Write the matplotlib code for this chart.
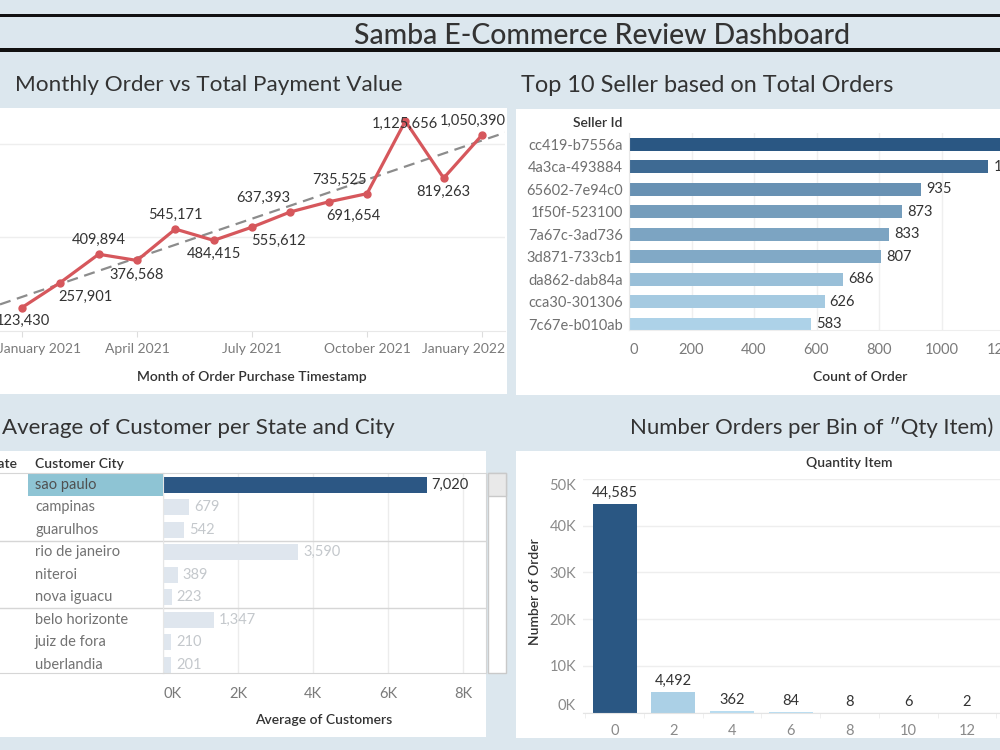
import numpy as np
import matplotlib
matplotlib.use('Agg')
import matplotlib.pyplot as plt
from matplotlib.patches import Rectangle
from matplotlib.colors import LinearSegmentedColormap, Normalize
from matplotlib.transforms import ScaledTranslation

# ---------------- data ----------------
dashboard_title = "Samba E-Commerce Review Dashboard"

line_title = "Monthly Order vs Total Payment Value"
months = ['January 2021', 'February 2021', 'March 2021', 'April 2021', 'May 2021',
          'June 2021', 'July 2021', 'August 2021', 'September 2021', 'October 2021',
          'November 2021', 'December 2021', 'January 2022']
payment_values = [123430, 257901, 409894, 376568, 545171, 484415, 555612,
                  637393, 691654, 735525, 1125656, 819263, 1050390]
month_tick_labels = ['January 2021', 'April 2021', 'July 2021', 'October 2021', 'January 2022']
line_xlabel = "Month of Order Purchase Timestamp"

seller_title = "Top 10 Seller based on Total Orders"
seller_ids = ['cc419-b7556a', '4a3ca-493884', '65602-7e94c0', '1f50f-523100', '7a67c-3ad736',
              '3d871-733cb1', 'da862-dab84a', 'cca30-301306', '7c67e-b010ab']
seller_orders = [1254, 1150, 935, 873, 833, 807, 686, 626, 583]
seller_ticks = [0, 200, 400, 600, 800, 1000, 1200]
seller_header = "Seller Id"
seller_xlabel = "Count of Order"

city_title = "Average of Customer per State and City"
customer_states = ['SP', 'SP', 'SP', 'RJ', 'RJ', 'RJ', 'MG', 'MG', 'MG']
customer_cities = ['sao paulo', 'campinas', 'guarulhos', 'rio de janeiro', 'niteroi',
                   'nova iguacu', 'belo horizonte', 'juiz de fora', 'uberlandia']
avg_customers = [7020, 679, 542, 3590, 389, 223, 1347, 210, 201]
selected_city = 'sao paulo'
cust_ticks = [0, 2000, 4000, 6000, 8000]
cust_tick_labels = ['0K', '2K', '4K', '6K', '8K']
city_headers = ["Customer State", "Customer City"]
city_xlabel = "Average of Customers"

qty_title = "Number Orders per Bin of \u2033Qty Item)"
qty_bins = [0, 2, 4, 6, 8, 10, 12]
qty_orders = [44585, 4492, 362, 84, 8, 6, 2]
qty_yticks = [0, 10000, 20000, 30000, 40000, 50000]
qty_ytick_labels = ['0K', '10K', '20K', '30K', '40K', '50K']
qty_header = "Quantity Item"
qty_ylabel = "Number of Order"

# ---------------- style ----------------
plt.rcParams['font.family'] = ['Lato', 'DejaVu Sans']
BG = '#dce7ee'
DARK = '#333333'
TICK = '#7a7a7a'
RED = '#d6575c'
ramp = LinearSegmentedColormap.from_list('tab_blue', ['#b9ddf1', '#2a5783'])
W, H = 1000, 750

fig = plt.figure(figsize=(10, 7.5), dpi=100)
fig.patch.set_facecolor(BG)


def px_axes(x0, y0, x1, y1, **kw):
    return fig.add_axes([x0 / W, 1 - y1 / H, (x1 - x0) / W, (y1 - y0) / H], **kw)


def shift(artist, dx_px):
    artist.set_transform(artist.get_transform() +
                         ScaledTranslation(dx_px / fig.dpi, 0, fig.dpi_scale_trans))


# underlay with white panels
under = px_axes(0, 0, W, H, zorder=-5)
under.set_xlim(0, W); under.set_ylim(H, 0); under.axis('off')
for (x0, y0, x1, y1) in [(0, 108, 507, 394), (516, 109, 1000, 395),
                         (0, 451, 486, 737), (516, 451, 1000, 738)]:
    under.add_patch(Rectangle((x0, y0), x1 - x0, y1 - y0, fc='white', ec='none'))

# overlay for texts and decorations
over = px_axes(0, 0, W, H, zorder=10)
over.set_xlim(0, W); over.set_ylim(H, 0); over.axis('off')
over.add_patch(Rectangle((0, 13.5), W, 3.5, fc='#111111', ec='none'))
over.add_patch(Rectangle((0, 48), W, 3.5, fc='#111111', ec='none'))
over.text(602, 36, dashboard_title, ha='center', va='center', fontsize=20.4,
          color=DARK, fontweight='medium')
for (x, y, s, fs) in [(15, 85, line_title, 16.2), (521, 85, seller_title, 16.9),
                      (2, 428, city_title, 16.15), (630, 428, qty_title, 15.9)]:
    over.text(x, y, s, ha='left', va='center', fontsize=fs, color=DARK)


def clean(ax):
    ax.set_facecolor('none')
    for s in ax.spines.values():
        s.set_visible(False)


# ---------------- 1. line chart ----------------
ax1 = px_axes(0, 108, 505, 330.5)
clean(ax1)
xi = np.arange(len(payment_values))
ax1.set_xlim(-0.574, 12.60)
ax1.set_ylim(0, 1.196e6)
ax1.set_yticks([500000, 1000000])
ax1.tick_params(axis='y', length=0, labelleft=False)
ax1.grid(axis='y', color='#eeeeee', lw=1)
ax1.set_axisbelow(True)
ax1.spines['bottom'].set_visible(True)
ax1.spines['bottom'].set_color('#e8e8e8')
ax1.set_xticks([months.index(m) for m in month_tick_labels], month_tick_labels)
ax1.tick_params(axis='x', length=4, color='#dddddd', pad=5, labelsize=10, labelcolor=TICK)
xl1 = ax1.get_xticklabels()
xl1[0].set_ha('left'); shift(xl1[0], -24)
xl1[-1].set_ha('right'); shift(xl1[-1], 23)
coef = np.polyfit(xi, payment_values, 1)
xx = np.array(ax1.get_xlim())
ax1.plot(xx, np.polyval(coef, xx), ls=(0, (5, 3)), color='#8c8c8c', lw=1.6, zorder=2)
ax1.plot(xi, payment_values, color=RED, lw=2.3, marker='o', ms=5, zorder=3)
label_offsets = [(1, -13), (25, -14), (0, 14), (0, -14), (0, 14), (0, -14), (26, -14),
                 (-27, 14), (25, -14), (-27, 14), (0, -3), (0, -14), (-9, 14)]
for i, v in enumerate(payment_values):
    dx, dy = label_offsets[i]
    ax1.annotate(f'{v:,}', (i, v), xytext=(dx, dy), textcoords='offset pixels',
                 ha='center', va='center', fontsize=10.5, color=DARK, zorder=4)
over.text(252, 377, line_xlabel, ha='center', va='center', fontsize=10,
          color=DARK, fontweight='semibold')

# ---------------- 2. sellers ----------------
ax2 = px_axes(629, 133, 1100, 329.5)
clean(ax2)
ax2.set_xlim(0, (1100 - 629) / 0.3125)
ax2.set_ylim(8.233, -0.5)
norm2 = Normalize(min(seller_orders) - 60, max(seller_orders))
ys = np.arange(len(seller_ids))
ax2.barh(ys, seller_orders, height=0.59, color=[ramp(norm2(v)) for v in seller_orders], zorder=2)
ax2.grid(axis='x', color='#efefef', lw=1)
ax2.set_axisbelow(True)
ax2.spines['left'].set_visible(True); ax2.spines['left'].set_color('#e8e8e8')
ax2.spines['bottom'].set_visible(True); ax2.spines['bottom'].set_color('#eeeeee')
ax2.set_yticks(ys, seller_ids)
ax2.tick_params(axis='y', length=0, pad=4.5, labelsize=10.5, labelcolor='#707070')
ax2.set_xticks(seller_ticks, [str(t) for t in seller_ticks])
ax2.tick_params(axis='x', length=0, pad=10, labelsize=10.5, labelcolor=TICK)
ax2.get_xticklabels()[0].set_ha('left')
for i, v in enumerate(seller_orders):
    ax2.annotate(f'{v:,}', (v, i), xytext=(5, 0), textcoords='offset pixels',
                 ha='left', va='center', fontsize=10.5, color=DARK, clip_on=True)
over.text(622.7, 123.3, seller_header, ha='right', va='center', fontsize=10,
          color=DARK, fontweight='semibold')
over.text(860, 377, seller_xlabel, ha='center', va='center', fontsize=10,
          color=DARK, fontweight='semibold')

# ---------------- 3. customers per city ----------------
row_top, row_bot = 473.3, 672.7
ylim3 = (-0.5 + (row_bot - row_top) / 22.5, -0.5)
ax3 = px_axes(163.3, row_top, 485.7, row_bot)
clean(ax3)
ax3.set_xlim(0, (485.7 - 163.3) / 0.0375)
ax3.set_ylim(*ylim3)
sel = customer_cities.index(selected_city)
cols3 = ['#2c5784' if i == sel else '#dfe6ee' for i in range(len(avg_customers))]
lab3 = [DARK if i == sel else '#c4c8cc' for i in range(len(avg_customers))]
rows = np.arange(len(customer_cities))
ax3.barh(rows, avg_customers, height=0.71, color=cols3, zorder=2)
for i, v in enumerate(avg_customers):
    ax3.annotate(f'{v:,}', (v, i), xytext=(5, 0), textcoords='offset pixels',
                 ha='left', va='center', fontsize=10.5, color=lab3[i], clip_on=True)
ax3.grid(axis='x', color='#ececec', lw=1)
ax3.set_axisbelow(True)
ax3.set_yticks([])
ax3.set_xticks(cust_ticks, cust_tick_labels)
ax3.tick_params(axis='x', length=0, pad=10, labelsize=10.5, labelcolor=TICK)
ax3.get_xticklabels()[0].set_ha('left')
ax3.spines['left'].set_visible(True); ax3.spines['left'].set_color('#e6e6e6')
for s in ['top', 'bottom', 'right']:
    ax3.spines[s].set_visible(True); ax3.spines[s].set_color('#d6d6d6')

ax3t = px_axes(0, row_top, 163.3, row_bot)
clean(ax3t)
ax3t.set_xlim(0, 163.3); ax3t.set_ylim(*ylim3)
ax3t.set_xticks([]); ax3t.set_yticks([])
for s in ['top', 'bottom']:
    ax3t.spines[s].set_visible(True); ax3t.spines[s].set_color('#d6d6d6')
ax3t.add_patch(Rectangle((28.3, sel - 0.5), 135, 1.0, fc='#8ec4d4', ec='none'))
for i, c in enumerate(customer_cities):
    ax3t.text(35, i, c, ha='left', va='center', fontsize=10.5,
              color='#505050' if i == sel else '#727272')
sep = [i + 0.5 for i in range(len(customer_states) - 1) if customer_states[i] != customer_states[i + 1]]
for s in sep:
    ax3.axhline(s, color='#d6d6d6', lw=1)
    ax3t.axhline(s, color='#d6d6d6', lw=1)
over.text(17, 464, city_headers[0], ha='right', va='center', fontsize=10,
          color=DARK, fontweight='semibold')
over.text(35, 464, city_headers[1], ha='left', va='center', fontsize=10,
          color=DARK, fontweight='semibold')
over.text(324, 720, city_xlabel, ha='center', va='center', fontsize=10,
          color=DARK, fontweight='semibold')
# scrollbar
over.add_patch(Rectangle((487.5, row_top), 18, row_bot - row_top, fc='white', ec='#c9c9c9', lw=1))
over.add_patch(Rectangle((487.5, row_top), 18, 22.4, fc='#e9e9e9', ec='#c9c9c9', lw=1))

# ---------------- 4. qty bins ----------------
ax4 = px_axes(583, 478.7, 1100, 712.7)
clean(ax4)
ax4.set_xlim(-31.7 / 29.35, -31.7 / 29.35 + 517 / 29.35)
ax4.set_ylim(0, 50000)
norm4 = Normalize(min(qty_orders), max(qty_orders))
ax4.bar(qty_bins, qty_orders, width=1.5, color=[ramp(norm4(v)) for v in qty_orders], zorder=2)
for b, v in zip(qty_bins, qty_orders):
    ax4.annotate(f'{v:,}', (b, v), xytext=(0, 4), textcoords='offset pixels',
                 ha='center', va='bottom', fontsize=10.5, color=DARK)
ax4.grid(axis='y', color='#eeeeee', lw=1)
ax4.set_axisbelow(True)
ax4.spines['bottom'].set_visible(True); ax4.spines['bottom'].set_color('#e4e4e4')
ax4.set_yticks(qty_yticks, qty_ytick_labels)
ax4.tick_params(axis='y', length=0, pad=5, labelsize=10.5, labelcolor='#8a8a8a')
yl = ax4.get_yticklabels()
yl[0].set_va('bottom'); yl[-1].set_va('top')
ax4.set_xticks(qty_bins, [str(b) for b in qty_bins])
ax4.set_xticks([b - 1 for b in qty_bins] + [qty_bins[-1] + 1], minor=True)
ax4.tick_params(axis='x', which='major', length=0, pad=8, labelsize=10.5, labelcolor='#8a8a8a')
ax4.tick_params(axis='x', which='minor', length=3.5, color='#ececec')
over.text(849, 463, qty_header, ha='center', va='center', fontsize=10,
          color=DARK, fontweight='semibold')
over.text(535, 592, qty_ylabel, ha='center', va='center', fontsize=10, rotation=90,
          color=DARK, fontweight='semibold')

fig.savefig('out.png', dpi=100, facecolor=BG)
